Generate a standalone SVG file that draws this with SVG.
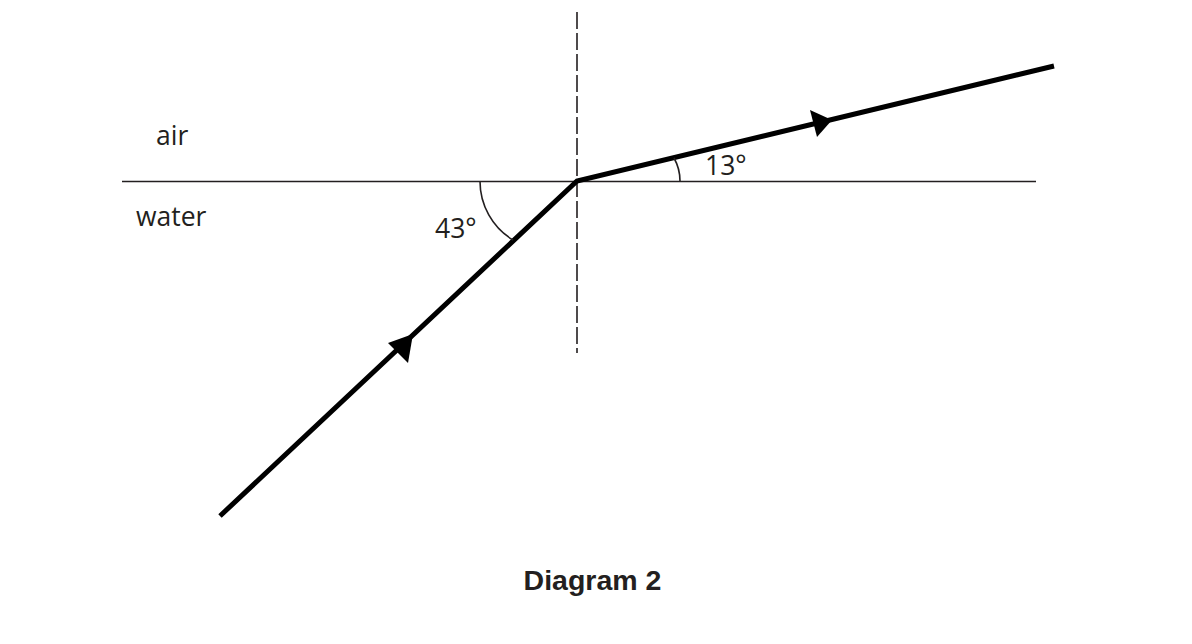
<svg xmlns="http://www.w3.org/2000/svg" width="1192" height="644" viewBox="0 0 1192 644">
<style>
.lbl{font-family:"Open Sans","Liberation Sans",sans-serif;font-size:26.5px;fill:#231f20}
.ray{stroke:#000;stroke-width:5;fill:none;stroke-linecap:butt}
.thin{stroke:#231f20;stroke-width:1.6;fill:none}
</style>
<rect width="1192" height="644" fill="#fff"/>
<g id="surface"><line class="thin" x1="122" y1="181.5" x2="1036" y2="181.5"/></g>
<g id="normal"><line class="thin" x1="577" y1="12" x2="577" y2="353" stroke-width="2" stroke-dasharray="17,4"/></g>
<g id="connectors">
<polyline class="ray" points="220,516 577,181 1054,66"/>
<polygon points="413,334 388,343 408,363" fill="#000"/>
<polygon points="832,120 810,110 817,137" fill="#000"/>
</g>
<g id="angles">
<path class="thin" d="M480,181 A69,69 0 0 0 513,240"/>
<path class="thin" d="M680,181 A47,47 0 0 0 674,158"/>
</g>
<g id="labels">
<text class="lbl" x="156" y="145">air</text>
<text class="lbl" x="136" y="226">water</text>
<text class="lbl" x="435" y="238">43°</text>
<text class="lbl" x="705" y="175">13°</text>
<text x="592.5" y="590" text-anchor="middle" font-family="Liberation Sans, Arial, sans-serif" font-weight="bold" font-size="28.5" fill="#231f20">Diagram 2</text>
</g>
</svg>
